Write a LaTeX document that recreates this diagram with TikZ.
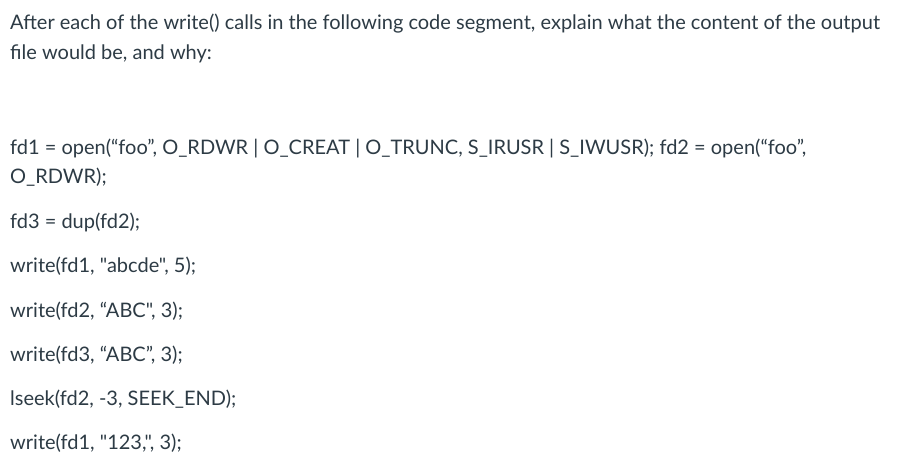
\documentclass[tikz,border=0pt]{standalone}
\usepackage{fontspec}
\newfontfamily\lato{Lato}
\definecolor{txt}{HTML}{2D3B45}
\begin{document}
\begin{tikzpicture}[x=1pt,y=-1pt,line/.style={anchor=base west,inner sep=0pt,text=txt,font=\lato\fontsize{20}{24}\selectfont}]
\useasboundingbox[fill=white] (0,0) rectangle (902,470);
\node[line] (l1) at (10,30) {After each of the write() calls in the following code segment, explain what the content of the output};
\node[line] (l2) at (10,60) {file would be, and why:};
\node[line] (c1) at (10,155) {fd1 = open(“foo”, O\_RDWR | O\_CREAT | O\_TRUNC, S\_IRUSR | S\_IWUSR); fd2 = open(“foo”,};
\node[line] (c2) at (10,184) {O\_RDWR);};
\node[line] (c3) at (10,229) {fd3 = dup(fd2);};
\node[line] (c4) at (10,273) {write(fd1, "abcde", 5);};
\node[line] (c5) at (10,317) {write(fd2, “ABC", 3);};
\node[line] (c6) at (10,361) {write(fd3, “ABC”, 3);};
\node[line] (c7) at (10,405) {lseek(fd2, -3, SEEK\_END);};
\node[line] (c8) at (10,449) {write(fd1, "123,", 3);};
\end{tikzpicture}
\end{document}
